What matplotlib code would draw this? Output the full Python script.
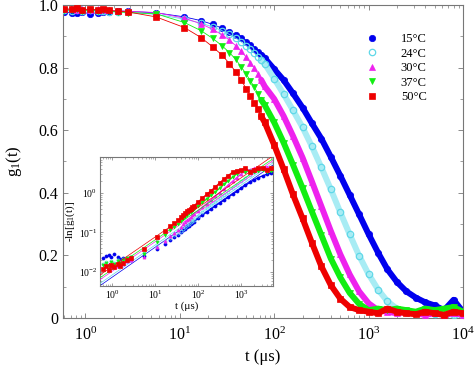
import numpy as np
import matplotlib
matplotlib.use('Agg')
import matplotlib.pyplot as plt
from matplotlib.ticker import LogLocator, MultipleLocator, NullFormatter, FuncFormatter
from matplotlib.lines import Line2D

plt.rcParams['font.family'] = ['Liberation Serif', 'DejaVu Serif']
plt.rcParams['mathtext.fontset'] = 'custom'
plt.rcParams['mathtext.rm'] = 'Liberation Serif'
plt.rcParams['mathtext.it'] = 'Liberation Serif:italic'

# ---- data ----
t_us = [0.6, 0.72, 0.82, 0.93, 1.12, 1.36, 1.55, 1.76, 2.24, 2.8,
        5.6, 11.2, 16.8, 22.4, 28.0, 33.6, 39.2, 44.8, 50.4, 56.0, 61.6, 67.2, 72.8,
        79.4, 100, 126, 158, 200, 251, 316, 398, 501, 631, 794, 1000, 1259, 1585,
        1995, 2512, 3162, 3981, 5012, 6310, 7943, 10000]

g_15C = [0.978, 0.975, 0.973, 0.977, 0.972, 0.976, 0.979, 0.978, 0.981, 0.980,
         0.975, 0.962, 0.950, 0.938, 0.926, 0.915, 0.904, 0.893, 0.882, 0.871, 0.861, 0.851, 0.841,
         0.830, 0.795, 0.760, 0.718, 0.672, 0.622, 0.573, 0.515, 0.455, 0.393, 0.331, 0.268, 0.209,
         0.155, 0.115, 0.085, 0.065, 0.050, 0.040, 0.025, 0.058, 0.020]
g_24C = [0.984, 0.982, 0.985, 0.981, 0.983, 0.980, 0.982, 0.979, 0.978, 0.977,
         0.970, 0.955, 0.942, 0.930, 0.918, 0.906, 0.894, 0.882, 0.870, 0.858, 0.846, 0.835, 0.824,
         0.812, 0.765, 0.715, 0.664, 0.609, 0.548, 0.481, 0.411, 0.338, 0.267, 0.199, 0.140, 0.091,
         0.053, 0.030, 0.018, 0.015, 0.020, 0.012, 0.015, 0.010, 0.012]
g_30C = [0.988, 0.986, 0.984, 0.987, 0.985, 0.986, 0.983, 0.984, 0.981, 0.980,
         0.976, 0.958, 0.940, 0.922, 0.905, 0.888, 0.870, 0.852, 0.834, 0.816, 0.798, 0.780, 0.761,
         0.740, 0.700, 0.645, 0.582, 0.512, 0.436, 0.357, 0.278, 0.204, 0.139, 0.085, 0.047, 0.025,
         0.020, 0.015, 0.020, 0.015, 0.010, 0.015, 0.010, 0.015, 0.010]
g_37C = [0.985, 0.983, 0.986, 0.982, 0.984, 0.981, 0.983, 0.980, 0.978, 0.976,
         0.972, 0.944, 0.918, 0.893, 0.870, 0.848, 0.826, 0.802, 0.780, 0.758, 0.738, 0.717, 0.697,
         0.680, 0.625, 0.560, 0.490, 0.415, 0.340, 0.265, 0.190, 0.130, 0.080, 0.045, 0.025, 0.030,
         0.025, 0.030, 0.025, 0.020, 0.030, 0.025, 0.030, 0.035, 0.020]
g_50C = [0.988, 0.986, 0.989, 0.985, 0.987, 0.984, 0.986, 0.983, 0.980, 0.978,
         0.962, 0.928, 0.896, 0.866, 0.840, 0.813, 0.786, 0.760, 0.733, 0.710, 0.686, 0.667, 0.645,
         0.625, 0.553, 0.475, 0.395, 0.318, 0.240, 0.165, 0.105, 0.062, 0.035, 0.025, 0.020, 0.015,
         0.030, 0.020, 0.015, 0.012, 0.020, 0.015, 0.010, 0.020, 0.015]

labels = ['15°C', '24°C', '30°C', '37°C', '50°C']
# stretched-exponential fit parameters used for the inset fit lines
fit_tau = [640, 540, 440, 380, 305]
fit_beta = [0.76, 0.76, 0.75, 0.75, 0.75]

# ---- styles ----
colors = ['#0000ee', '#5fd8e8', '#ee22ee', '#11ee11', '#ee0000']
band_colors = ['#0000ee', '#a8ecf4', '#ee22ee', '#11ee11', '#ee0000']
markers = ['o', 'o', '^', 'v', 's']
hollow = [False, True, False, False, False]
series = [g_15C, g_24C, g_30C, g_37C, g_50C]

t = np.array(t_us)
n_dense = 22  # index where dense channels begin

fig = plt.figure(figsize=(4.74, 3.71), dpi=100)
ax = fig.add_axes([63/474, 1-318/371, 400/474, 313/371])

for i, g in enumerate(series):
    g = np.array(g)
    z = 2 + i
    ax.plot(t, g, '-', color=colors[i], lw=0.6, zorder=z)
    ax.plot(t[n_dense:], g[n_dense:], '-', color=band_colors[i], lw=4.3,
            solid_capstyle='round', solid_joinstyle='round', zorder=z)
    ax.plot(t, g, linestyle='none', marker=markers[i], ms=4.6,
            mec=colors[i], mfc='none' if hollow[i] else colors[i],
            mew=0.9 if hollow[i] else 0.5, zorder=z + 0.5)

ax.set_xscale('log')
ax.set_xlim(0.58, 1e4)
ax.set_ylim(0, 1.0)
ax.xaxis.set_major_locator(LogLocator(base=10, numticks=10))
ax.xaxis.set_minor_locator(LogLocator(base=10, subs=np.arange(2, 10), numticks=20))
ax.xaxis.set_minor_formatter(NullFormatter())
ax.yaxis.set_major_locator(MultipleLocator(0.2))
ax.yaxis.set_minor_locator(MultipleLocator(0.1))
ax.yaxis.set_major_formatter(FuncFormatter(lambda v, p: '0' if abs(v) < 1e-9 else f'{v:.1f}'))
ax.tick_params(which='both', direction='in', top=True, right=True, labelsize=11.5,
               color='#777777')
ax.tick_params(which='major', length=3.5, width=0.6)
ax.tick_params(which='minor', length=2, width=0.5)
ax.tick_params(axis='x', pad=6)
for s in ax.spines.values():
    s.set_color('#777777')
    s.set_linewidth(0.8)
ax.set_xlabel('t (μs)', fontsize=12, labelpad=4)
ax.set_ylabel(r'g$_{\mathregular{1}}$(t)', fontsize=12, labelpad=10)

handles = [Line2D([], [], linestyle='none', marker=markers[i], ms=4.6, mec=colors[i],
                  mfc='none' if hollow[i] else colors[i], mew=0.9 if hollow[i] else 0.5)
           for i in range(5)]
ax.legend(handles, labels, loc='upper left', bbox_to_anchor=(0.757, 0.91), frameon=False,
          fontsize=9, handlelength=1.0, handletextpad=1.8, labelspacing=0.2,
          borderaxespad=0, borderpad=0, numpoints=1)

# ---- inset ----
axin = fig.add_axes([100/474, 1-286/371, 173/474, 129/371])
axin.set_facecolor('white')
tfit = np.logspace(np.log10(0.4), np.log10(8000), 50)
for i, g in enumerate(series):
    g = np.array(g)
    y = -np.log(g)
    z = 2 + i
    axin.plot(tfit, (tfit / fit_tau[i]) ** fit_beta[i], '-', color=colors[i], lw=0.5, zorder=z)
    axin.plot(t[n_dense:], y[n_dense:], '-', color=band_colors[i], lw=1.0, zorder=z)
    axin.plot(t, y, linestyle='none', marker=markers[i], ms=2.2,
              mec=colors[i], mfc='none' if hollow[i] else colors[i],
              mew=0.5, zorder=z + 0.5)
axin.set_xscale('log')
axin.set_yscale('log')
axin.set_xlim(0.52, 5500)
axin.set_ylim(0.0044, 8.2)
axin.xaxis.set_major_locator(LogLocator(base=10, numticks=10))
axin.yaxis.set_major_locator(LogLocator(base=10, numticks=10))
axin.tick_params(which='both', direction='in', top=True, right=True, labelsize=7,
                 color='#777777', pad=2)
axin.tick_params(which='major', length=2.5, width=0.5)
axin.tick_params(which='minor', length=1.3, width=0.4)
for s in axin.spines.values():
    s.set_color('#777777')
    s.set_linewidth(0.8)
axin.set_xlabel('t (μs)', fontsize=8, labelpad=0)
axin.set_ylabel(r'-ln[g$_{\mathregular{1}}$(t)]', fontsize=8, labelpad=1)

fig.savefig('out.png', dpi=100)
